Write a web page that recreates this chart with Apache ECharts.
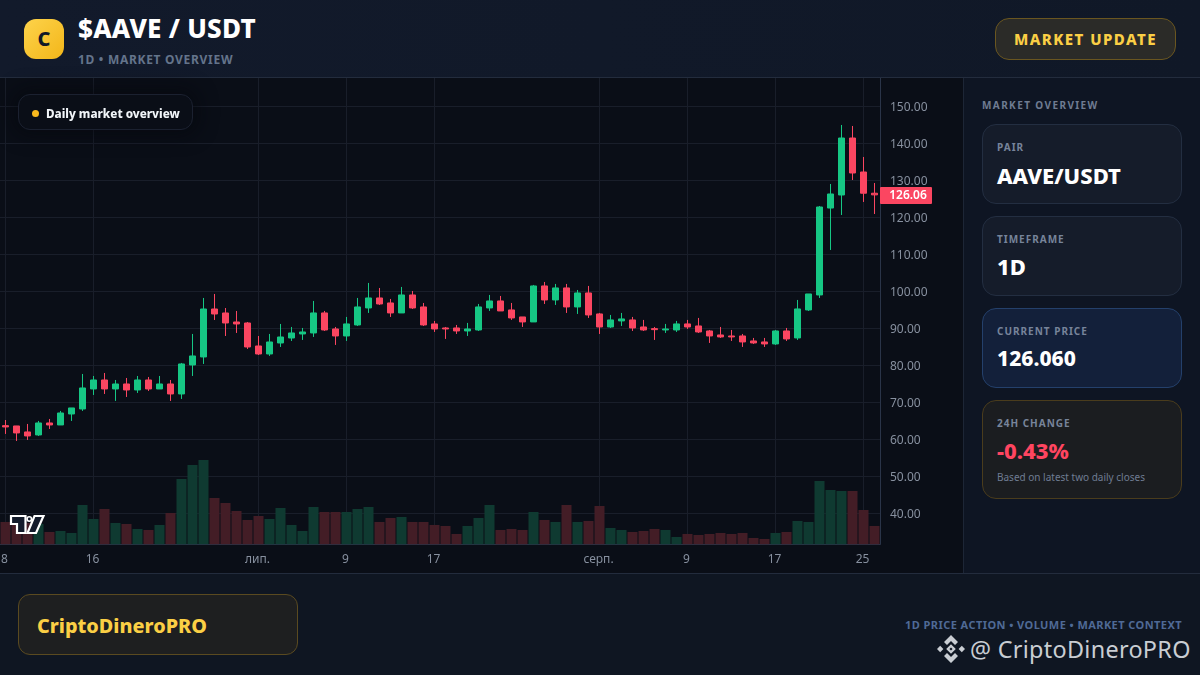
<!DOCTYPE html>
<html><head><meta charset="utf-8">
<script src="https://cdn.jsdelivr.net/npm/echarts@6/dist/echarts.min.js"></script>
<style>
*{box-sizing:border-box;margin:0;padding:0}
html,body{width:1200px;height:675px;overflow:hidden;background:#0f1624;font-family:"Noto Sans",sans-serif;color:#fff}
.abs{position:absolute;white-space:nowrap}
#header{left:0;top:0;width:1200px;height:78px;background:linear-gradient(90deg,#121a2b,#101827);border-bottom:1px solid #232c3d}
#icon{left:24px;top:19px;width:40px;height:40px;border-radius:12px;background:linear-gradient(135deg,#fdd34b,#f3b619);color:#111827;font-weight:800;font-size:20px;line-height:40px;text-align:center}
#title{left:78px;top:10px;font-size:26px;font-weight:800;line-height:36px;letter-spacing:.25px}
#sub{left:78px;top:51px;font-size:12px;font-weight:700;letter-spacing:.7px;line-height:18px;color:#64748b}
#btn{left:995px;top:18px;width:181px;height:42px;border-radius:14px;background:#2b2b28;border:1px solid #6a5620;color:#fbcf45;font-weight:800;font-size:15px;letter-spacing:1.45px;line-height:40px;text-align:center}
#chart{left:0;top:78px;width:964px;height:495px;background:#0a0e17}
#pill{left:18px;top:94px;width:175px;height:36px;border-radius:12px;background:#0a0e17;border:1px solid #1b2130;box-shadow:0 0 18px 6px rgba(6,8,13,.55);font-size:11.7px;font-weight:800;line-height:36px;padding-left:27px;color:#f1f5f9}
#dot{left:32px;top:110px;width:7px;height:7px;border-radius:50%;background:#f8b91e}
#side{left:963px;top:78px;width:237px;height:495px;background:#0e1523;border-left:1px solid #1d2636}
#sideT{left:982px;top:98px;font-size:10px;font-weight:700;letter-spacing:1.4px;line-height:14px;color:#6f7c92}
.card{position:absolute;left:982px;width:200px;border-radius:14px;background:#151c2a;border:1px solid #232e41}
.lab{position:absolute;left:14px;top:15px;font-size:10px;font-weight:700;letter-spacing:1px;line-height:14px;color:#77849a;white-space:nowrap}
.val{position:absolute;left:14px;font-size:22px;font-weight:800;line-height:30px;white-space:nowrap}
#note{position:absolute;left:14px;top:69px;font-size:10px;line-height:14px;color:#6f7c92;white-space:nowrap}
#footer{left:0;top:573px;width:1200px;height:102px;background:#0f1622;border-top:1px solid #232c3d}
#brand{left:18px;top:594px;width:280px;height:61px;border-radius:12px;background:#1e1f20;border:1px solid #5a4a20;color:#fbcf45;font-weight:800;font-size:19.8px;line-height:61px;padding-left:18px}
#ctx{right:18px;top:617px;font-size:11px;font-weight:700;letter-spacing:.43px;line-height:16px;color:#4f6a96}
#wm{left:970px;top:631px;font-size:23.4px;line-height:36px;color:#c9cdd3;letter-spacing:.3px}
</style></head><body>
<div id="chart" class="abs"></div>
<div id="header" class="abs"></div>
<div id="icon" class="abs">C</div>
<div id="title" class="abs">$AAVE / USDT</div>
<div id="sub" class="abs">1D • MARKET OVERVIEW</div>
<div id="btn" class="abs">MARKET UPDATE</div>
<div id="pill" class="abs">Daily market overview</div>
<div id="dot" class="abs"></div>
<div id="side" class="abs"></div>
<div id="sideT" class="abs">MARKET OVERVIEW</div>
<div class="card" style="top:124px;height:80px"><div class="lab">PAIR</div><div class="val" style="top:35px">AAVE/USDT</div></div>
<div class="card" style="top:216px;height:80px"><div class="lab">TIMEFRAME</div><div class="val" style="top:34px">1D</div></div>
<div class="card" style="top:308px;height:80px;background:#13203a;border-color:#24406b"><div class="lab">CURRENT PRICE</div><div class="val" style="top:34px;font-size:21px">126.060</div></div>
<div class="card" style="top:400px;height:99px;background:#1b1d20;border-color:#4a3c1c"><div class="lab">24H CHANGE</div><div class="val" style="top:34px;color:#ff4560">-0.43%</div><div id="note">Based on latest two daily closes</div></div>
<div id="footer" class="abs"></div>
<div id="brand" class="abs">CriptoDineroPRO</div>
<div id="ctx" class="abs">1D PRICE ACTION • VOLUME • MARKET CONTEXT</div>
<svg class="abs" style="left:936px;top:634px" width="30" height="30" viewBox="0 0 30 30"><g fill="#c9cdd3"><path d="M15 1l7 7-3 3-4-4-4 4-3-3z"/><path d="M15 29l-7-7 3-3 4 4 4-4 3 3z"/><path d="M1 15l3.2-3.2 3.2 3.2-3.2 3.2z"/><path d="M22.6 15l3.2-3.2 3.2 3.2-3.2 3.2z"/><path fill-rule="evenodd" d="M15 10.2l4.8 4.8-4.8 4.8-4.8-4.8zM15 13.4l-1.6 1.6 1.6 1.6 1.6-1.6z"/></g></svg>
<div id="wm" class="abs">@ CriptoDineroPRO</div>
<script>
const dates = ["8","9","10","11","12","13","14","15","16","17","18","19","20","21","22","23","24","25","26","27","28","29","30","лип.","2","3","4","5","6","7","8","9","10","11","12","13","14","15","16","17","18","19","20","21","22","23","24","25","26","27","28","29","30","31","серп.","2","3","4","5","6","7","8","9","10","11","12","13","14","15","16","17","18","19","20","21","22","23","24","25","26"];
const shownDates = [0,8,23,31,39,54,62,70,78];
const priceTicks = [40,50,60,70,80,90,100,110,120,130,140,150];
const opens = [63.68,63.59,61.97,61.16,64.4,63.86,66.83,68.18,73.59,76.02,73.59,74.94,73.32,76.02,73.59,74.94,72.24,80.08,82.24,95.21,94.13,91.7,91.43,85.21,83.05,86.02,87.37,88.46,88.73,94.14,89.81,87.92,90.89,95.49,98.19,96.84,94.14,99.0,95.76,91.17,90.08,90.08,89.27,89.54,95.49,97.38,94.95,93.06,91.71,101.44,97.65,100.9,95.76,99.54,93.87,90.35,91.98,92.25,90.35,89.9,89.54,89.54,91.17,90.62,89.27,88.19,87.92,87.92,86.57,86.3,85.76,89.27,87.38,94.95,99.0,122.5,126.03,141.43,132.24,126.5];
const closes = [63.32,61.7,60.89,64.4,63.86,67.1,68.46,73.86,76.02,73.59,74.94,73.32,76.02,73.59,74.94,72.24,80.35,82.51,95.21,93.86,91.43,91.16,84.94,83.05,86.29,87.64,88.73,89.0,94.14,89.54,87.92,91.17,95.76,98.19,96.57,94.14,99.0,95.49,90.89,89.81,89.81,89.27,89.81,95.76,97.38,94.68,92.79,91.71,101.44,97.65,100.9,95.76,99.54,93.6,90.35,92.25,92.52,90.08,89.54,89.63,89.81,91.17,90.35,89.0,87.92,87.65,87.65,86.3,86.03,85.76,89.27,87.11,95.22,99.27,122.78,126.3,141.43,131.97,126.5,126.06];
const highs = [65.2,63.6,64.13,64.95,65.48,67.65,68.46,77.64,77.1,77.91,76.02,76.56,77.1,76.83,77.1,76.02,80.62,88.46,98.19,99.27,95.48,94.67,91.7,87.91,88.46,91.16,90.35,90.08,97.38,94.68,90.35,93.06,98.19,102.25,100.89,97.92,101.17,100.08,96.84,91.98,90.35,90.89,91.44,96.57,99.0,98.73,96.84,93.06,101.71,102.52,101.98,101.98,100.35,101.44,94.14,93.6,94.14,93.06,92.25,90.35,91.17,91.98,92.25,92.79,89.54,90.35,89.54,88.46,87.38,87.38,89.54,90.08,97.65,99.27,123.05,129.0,144.95,144.68,136.3,129.27];
const lows = [61.43,59.54,59.81,60.89,62.78,63.86,64.94,67.65,71.97,72.24,70.35,71.43,72.51,73.05,73.59,70.35,70.89,77.1,80.35,92.24,87.91,88.73,84.4,82.78,82.51,84.94,86.56,86.84,87.65,89.27,85.49,86.57,90.62,94.14,96.3,93.06,94.14,95.22,90.62,89.0,87.11,88.46,87.92,89.27,94.68,94.68,92.25,90.35,91.71,96.57,96.3,94.14,93.87,92.79,88.46,90.08,90.62,89.27,89.27,86.84,88.73,89.0,89.81,88.73,86.03,87.38,86.57,84.95,85.76,84.95,85.49,86.57,86.84,94.68,98.19,111.16,120.62,130.08,124.14,120.89];
const volumes = [67,62,64,61,37,40,34,118,76,106,64,61,46,43,58,94,196,238,253,139,124,100,73,85,76,109,58,40,112,97,97,97,106,112,67,79,82,67,67,58,55,31,55,79,118,43,46,43,97,73,67,118,67,70,115,49,43,37,40,46,43,22,31,28,31,34,31,34,19,16,34,37,70,67,190,163,160,160,103,55];
const lastPrice = 126.06;

const UP = '#16c784', DOWN = '#fb4661';
const VUP = '#0f3a31', VDOWN = '#431d26';
const GRID = '#191e2a', AXIS = '#2a3448', TXT = '#87909f';
const isShown = i => shownDates.indexOf(i) >= 0;

const chart = echarts.init(document.getElementById('chart'));
chart.setOption({
  animation:false,
  backgroundColor:'#0a0e17',
  grid:{left:0,top:0,width:880,height:466.3,containLabel:false,outerBoundsMode:'none',show:false},
  xAxis:{type:'category',data:dates,boundaryGap:true,
    axisLine:{show:true,lineStyle:{color:AXIS,width:1}},
    axisTick:{show:false,alignWithLabel:true},
    axisLabel:{color:TXT,fontFamily:'"Noto Sans",sans-serif',fontSize:12,margin:9,padding:[0,2,0,0],
      interval:(i)=>isShown(i),hideOverlap:false},
    splitLine:{show:true,alignWithLabel:true,interval:(i)=>isShown(i),lineStyle:{color:GRID,width:1}}
  },
  yAxis:[
    {type:'value',position:'right',min:31.6,max:157.65,scale:true,
      axisLine:{show:true,onZero:false,lineStyle:{color:AXIS,width:1}},
      axisTick:{show:false,customValues:priceTicks},
      axisLabel:{color:TXT,fontFamily:'"Noto Sans",sans-serif',fontSize:12,margin:10,customValues:priceTicks,
        formatter:v=>'{p|'+v.toFixed(2)+'}',
        rich:{p:{color:TXT,fontFamily:'"Noto Sans",sans-serif',fontSize:12,padding:[3,0,0,0]}}},
      splitLine:{show:true,lineStyle:{color:GRID,width:1}}},
    {type:'value',min:0,max:1399,show:false,splitLine:{show:false}}
  ],
  series:[
    {type:'bar',yAxisIndex:1,barWidth:10,z:1,silent:true,
      data:volumes.map((v,i)=>({value:v,itemStyle:{color:closes[i]>=opens[i]?VUP:VDOWN}}))},
    {type:'candlestick',yAxisIndex:0,barWidth:7,z:3,silent:true,
      itemStyle:{color:UP,color0:DOWN,borderColor:UP,borderColor0:DOWN,borderWidth:1},
      data:opens.map((o,i)=>[o,closes[i],lows[i],highs[i]])}
  ]
});
const py = chart.convertToPixel({yAxisIndex:0},lastPrice)+0.6;
chart.setOption({graphic:[
  {type:'rect',z:20,shape:{x:880,y:py-8.5,width:52,height:17,r:1},style:{fill:'#fb4661'}},
  {type:'text',z:21,style:{x:908,y:py+0.5,text:lastPrice.toFixed(2),fill:'#fff',font:'600 12px "Noto Sans",sans-serif',textAlign:'center',textVerticalAlign:'middle'}},
  {type:'polygon',z:22,shape:{points:[[11,438],[25.5,438],[25.5,455],[17,455],[17,446],[11,446]]},style:{fill:'#131b2b',stroke:'#fff',lineWidth:2.2}},
  {type:'circle',z:23,shape:{cx:29.3,cy:441,r:2.2},style:{fill:'#131b2b',stroke:'#fff',lineWidth:1.6}},
  {type:'polygon',z:22,shape:{points:[[34.5,438],[43.5,438],[36,455],[27.5,455]]},style:{fill:'#131b2b',stroke:'#fff',lineWidth:2.2}}
]});
</script>
</body></html>
